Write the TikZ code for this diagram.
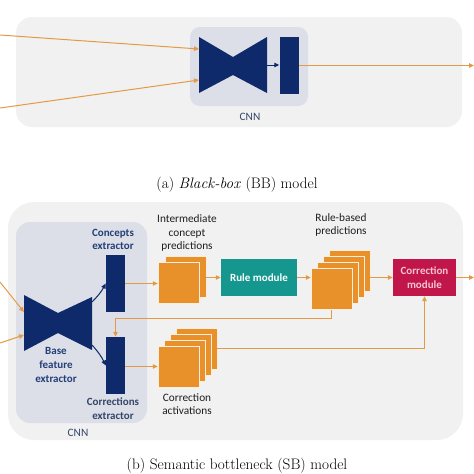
\documentclass[tikz,border=0pt]{standalone}
\usepackage{fontspec}
\newfontfamily\carlitofont{Carlito}
\usetikzlibrary{arrows.meta}
\definecolor{panel}{HTML}{F1F1F2}
\definecolor{cnnbox}{HTML}{DCDFE7}
\definecolor{navy}{HTML}{0E2A6A}
\definecolor{orng}{HTML}{E8912A}
\definecolor{oline}{HTML}{E49A45}
\definecolor{teal}{HTML}{15978F}
\definecolor{crim}{HTML}{C1164A}
\definecolor{pinktxt}{HTML}{F6C3D3}
\definecolor{navytxt}{HTML}{243F78}
\definecolor{graytxt}{HTML}{34466A}
\definecolor{blk}{HTML}{1E1E1E}
\tikzset{
  oarrow/.style={draw=oline, line width=1pt, -{Triangle[length=5pt,width=4.5pt]}},
  narrow/.style={draw=navy, line width=1pt, -{Triangle[length=5pt,width=4.5pt]}},
  navyrect/.style={fill=navy, inner sep=0pt, minimum width=19pt, minimum height=57pt},
  sq/.style={fill=orng, draw=white!85!orng, line width=0.5pt, inner sep=0pt, minimum size=41pt},
  lbl/.style={font=\carlitofont\fontsize{11.3}{13.6}\selectfont, align=center, text=blk},
  nlbl/.style={font=\carlitofont\bfseries\fontsize{11}{13.6}\selectfont, align=center, text=navytxt},
  modbox/.style={inner sep=0pt, minimum height=37pt, font=\carlitofont\bfseries\fontsize{11}{13.5}\selectfont, align=center},
  captxt/.style={font=\fontsize{15.2}{17}\selectfont}
}
\begin{document}
\begin{tikzpicture}[x=1pt,y=-1pt]
\useasboundingbox (0,0) rectangle (474,474);
% ---------- (a) ----------
\fill[panel, rounded corners=16pt] (16,17) rectangle (462,127);
\fill[cnnbox, rounded corners=10pt] (190,27) rectangle (308,106);
\fill[navy] (199,37) -- (233,57) -- (267,37) -- (267,93) -- (233,75) -- (199,93) -- cycle;
\coordinate (bta) at (267,65);
\coordinate (btin1) at (199,49);
\coordinate (btin2) at (199,80);
\node[navyrect] (fa) at (289,65.5) {};
\coordinate (ina1) at (0,35);
\coordinate (ina2) at (0,108);
\coordinate (outa) at (474,65.5);
\draw[oarrow] (ina1) -- (btin1);
\draw[oarrow] (ina2) -- (btin2);
\draw[narrow] (bta) -- (bta -| fa.west);
\draw[oarrow] (fa.east) -- (outa);
\node[lbl, text=graytxt] (cnna) at (250,117) {CNN};
\node[captxt] (capa) at (237,185) {(a) \textit{Black-box} (BB) model};
% ---------- (b) ----------
\fill[panel, rounded corners=26pt] (8,202) rectangle (463,440);
\fill[cnnbox, rounded corners=14pt] (16,222) rectangle (147,423);
\node[lbl, text=graytxt] (cnnb) at (78,433) {CNN};
\fill[navy] (24,295) -- (58,313) -- (92,297) -- (92,350) -- (58,333) -- (24,351) -- cycle;
\coordinate (btb1) at (92,302);
\coordinate (btb2) at (92,345);
\coordinate (btbin1) at (24,312);
\coordinate (btbin2) at (24,335);
\node[nlbl] (base) at (56,365) {Base\\feature\\extractor};
\node[navyrect] (cext) at (115.5,283.5) {};
\node[navyrect, minimum height=57pt] (corx) at (115.5,365.5) {};
\node[nlbl] (cextl) at (113,239.5) {Concepts\\extractor};
\node[nlbl, text=graytxt] (corxl) at (113,408.5) {Corrections\\extractor};
\coordinate (inb1) at (0,282);
\coordinate (inb2) at (0,343);
\draw[oarrow] (inb1) -- (btbin1);
\draw[oarrow] (inb2) -- (btbin2);
\draw[narrow] (btb1) to[bend right=8] (cext.west);
\draw[narrow] (btb2) to[bend left=8] (corx.west);
% intermediate concept predictions
\node[sq] (ic2) at (185.5,277) {};
\node[sq] (ic1) at (178.5,283) {};
\node[lbl] (icl) at (187,233) {Intermediate\\concept\\predictions};
\draw[oarrow] (cext.east) -- (cext.east -| ic1.west);
% rule module
\node[modbox, fill=teal, text=white, minimum width=76pt] (rule) at (259,277.5) {Rule module};
\draw[oarrow] (ic2.east |- rule.west) -- (rule.west);
% rule-based predictions
\node[sq] (rb4) at (349.5,271) {};
\node[sq] (rb3) at (343.5,277) {};
\node[sq] (rb2) at (337.5,283) {};
\node[sq] (rb1) at (331.5,289) {};
\node[lbl] (rbl) at (341,225) {Rule-based\\predictions};
\draw[oarrow] (rule.east) -- (rule.east -| rb1.west);
% correction module
\node[modbox, fill=crim, text=pinktxt, minimum width=63pt] (corr) at (424.5,277.5) {Correction\\module};
\draw[oarrow] (rb4.east |- corr.west) -- (corr.west);
\coordinate (outb) at (474,277.5);
\draw[oarrow] (corr.east) -- (outb);
% feedback
\coordinate (fb) at (115.5,318);
\draw[oarrow] (rb1.south) |- (fb) -- (corx.north);
% correction activations
\node[sq] (ca4) at (196.5,348.5) {};
\node[sq] (ca3) at (190.5,354.5) {};
\node[sq] (ca2) at (184.5,360.5) {};
\node[sq] (ca1) at (178.5,366.5) {};
\node[lbl] (cal) at (187,404) {Correction\\activations};
\draw[oarrow] (corx.east |- ca1.west) -- (ca1.west);
\draw[oarrow] (ca4.east) -| (corr.south);
\node[captxt] (capb) at (237,466) {(b) Semantic bottleneck (SB) model};
\end{tikzpicture}
\end{document}
